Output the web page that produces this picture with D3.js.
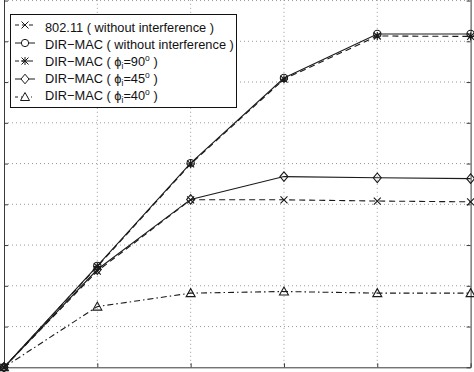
<!DOCTYPE html>
<html>
<head>
<meta charset="utf-8">
<script src="https://cdn.jsdelivr.net/npm/d3@7"></script>
<style>
  body { margin: 0; background: #fff; }
  svg { display: block; font-family: "Liberation Sans", Arial, Helvetica, sans-serif; }
</style>
</head>
<body>
<svg id="chart"></svg>
<script>
const width = 474;
const height = 372;

// x positions (tick index) and grid ticks, labels are cropped off in the reference
const xCats = [0, 1, 2, 3, 4, 5];
const yTicks = [0, 1, 2, 3, 4, 5, 6, 7, 8, 9, 10];

// series values in grid units
const ieeeNoInt = [0, 2.36, 4.11, 4.11, 4.08, 4.06];
const dirNoInt  = [0, 2.49, 5.01, 7.10, 8.18, 8.18];
const dir90     = [0, 2.47, 4.99, 7.07, 8.13, 8.12];
const dir45     = [0, 2.40, 4.12, 4.68, 4.65, 4.63];
const dir40     = [0, 1.49, 1.82, 1.86, 1.82, 1.82];

const seriesNames = ['802.11', 'DIR\u2212MAC', 'DIR\u2212MAC', 'DIR\u2212MAC', 'DIR\u2212MAC'];
const seriesNotes = ['without interference', 'without interference', '90', '45', '40'];

const series = [
  { values: ieeeNoInt, dash: '6,4', marker: 'x' },
  { values: dirNoInt, dash: null, marker: 'o' },
  { values: dir90, dash: '6,4', marker: '*' },
  { values: dir45, dash: null, marker: 'd' },
  { values: dir40, dash: '6,3,1.5,3', marker: '^' }
];

const plot = { left: 4, right: 470.6, bottom: 367.3, step: 40.75 };

const x = d3.scaleLinear().domain([0, 5]).range([plot.left, plot.right]);
const y = d3.scaleLinear().domain([0, 10]).range([plot.bottom, plot.bottom - 10 * plot.step]);

const ink = '#1a1a1a';

const svg = d3.select('#chart')
  .attr('width', width)
  .attr('height', height);

// dotted grid
const grid = svg.append('g')
  .attr('stroke', '#9a9a9a')
  .attr('stroke-width', 1)
  .attr('stroke-dasharray', '1,3');

grid.selectAll('.vgrid')
  .data(xCats.slice(1, -1))
  .enter()
  .append('line')
  .attr('x1', d => x(d)).attr('x2', d => x(d))
  .attr('y1', y(10)).attr('y2', plot.bottom);

grid.selectAll('.hgrid')
  .data(yTicks.slice(1))
  .enter()
  .append('line')
  .attr('x1', plot.left).attr('x2', plot.right)
  .attr('y1', d => y(d)).attr('y2', d => y(d));

// axes box with inward ticks
const axisStyle = g => {
  g.selectAll('path, line').attr('stroke', '#3a3a3a');
  g.selectAll('text').remove();
};

svg.append('g')
  .attr('transform', `translate(0, ${plot.bottom})`)
  .call(d3.axisBottom(x).tickValues(xCats).tickSizeInner(-4).tickSizeOuter(0).tickFormat(''))
  .call(axisStyle);

svg.append('g')
  .attr('transform', `translate(${plot.left}, 0)`)
  .call(d3.axisLeft(y).tickValues(yTicks).tickSizeInner(-4).tickSizeOuter(0).tickFormat(''))
  .call(axisStyle);

svg.append('g')
  .attr('transform', `translate(${plot.right}, 0)`)
  .call(d3.axisRight(y).tickValues(yTicks).tickSizeInner(-4).tickSizeOuter(0).tickFormat(''))
  .call(axisStyle);

function markerPath(type) {
  const s = 3.5;
  switch (type) {
    case 'x': return `M${-s},${-s}L${s},${s}M${-s},${s}L${s},${-s}`;
    case '*': return `M${-s},${-s}L${s},${s}M${-s},${s}L${s},${-s}M0,${-s - 0.5}L0,${s + 0.5}M${-s - 0.5},0L${s + 0.5},0`;
    case 'd': return 'M0,-4.8L4,0L0,4.8L-4,0Z';
    case '^': return 'M0,-4.5L4.5,3.5L-4.5,3.5Z';
    default: return d3.symbol().type(d3.symbolCircle).size(42)();
  }
}

const line = d3.line()
  .x((d, i) => x(xCats[i]))
  .y(d => y(d));

series.forEach(s => {
  svg.append('path')
    .datum(s.values)
    .attr('fill', 'none')
    .attr('stroke', ink)
    .attr('stroke-width', 1.1)
    .attr('stroke-dasharray', s.dash)
    .attr('d', line);

  svg.selectAll(null)
    .data(s.values)
    .enter()
    .append('path')
    .attr('transform', (d, i) => `translate(${x(xCats[i])}, ${y(d)})`)
    .attr('d', markerPath(s.marker))
    .attr('fill', 'none')
    .attr('stroke', ink)
    .attr('stroke-width', 1.1);
});

// legend
const legend = svg.append('g');
legend.append('rect')
  .attr('x', 10.5).attr('y', 14.5)
  .attr('width', 226).attr('height', 93)
  .attr('fill', '#fff')
  .attr('stroke', '#111')
  .attr('stroke-width', 1);

series.forEach((s, i) => {
  const ly = 25 + i * 18;
  const item = legend.append('g');
  item.append('line')
    .attr('x1', 15).attr('x2', 35)
    .attr('y1', ly).attr('y2', ly)
    .attr('stroke', ink)
    .attr('stroke-dasharray', s.dash ? (s.marker === '^' ? '3,3,1,3' : '4,3') : null);
  item.append('path')
    .attr('transform', `translate(25, ${ly})`)
    .attr('d', markerPath(s.marker))
    .attr('fill', s.marker === '^' || s.marker === 'd' || s.marker === 'o' ? '#fff' : 'none')
    .attr('stroke', ink);

  const t = item.append('text')
    .attr('x', 45)
    .attr('y', 31.7 + i * 17.1)
    .attr('font-size', '12.8px')
    .attr('fill', '#111');
  if (i < 2) {
    t.text(`${seriesNames[i]} ( ${seriesNotes[i]} )`);
  } else {
    t.append('tspan').text(`${seriesNames[i]} ( \u03d5`);
    t.append('tspan').attr('dy', 3).attr('font-size', '8.5px').text('i');
    t.append('tspan').attr('dy', -3).text(`=${seriesNotes[i]}`);
    t.append('tspan').attr('dy', -5).attr('font-size', '8.5px').text('o');
    t.append('tspan').attr('dy', 5).text(' )');
  }
});
</script>
</body>
</html>
